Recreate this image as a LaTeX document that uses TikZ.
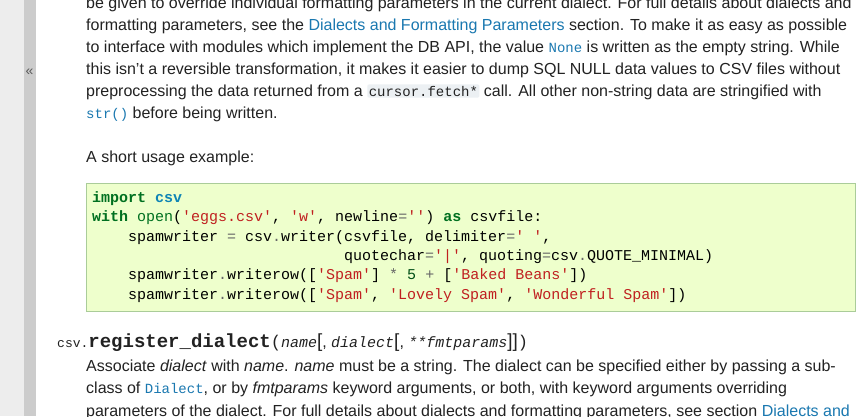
\documentclass[tikz,border=0pt]{standalone}
\usepackage{fontspec}
\setmainfont{Liberation Sans}
\setmonofont{Liberation Mono}
\definecolor{txt}{HTML}{222222}
\definecolor{lnk}{HTML}{1A78B0}
\definecolor{kw}{HTML}{007020}
\definecolor{st}{HTML}{C02020}
\definecolor{nm}{HTML}{0E84B5}
\definecolor{op}{HTML}{666666}
\definecolor{codebg}{HTML}{EEFFCC}
\definecolor{codebd}{HTML}{AACC99}
\definecolor{inl}{HTML}{ECF0F3}
\newcommand\lk[1]{\textcolor{lnk}{#1}}
\newcommand\ic[1]{{\fontsize{14}{14}\selectfont\ttfamily\textcolor{lnk}{#1}}}
\newcommand\K[1]{\textcolor{kw}{\bfseries #1}}
\newcommand\Sg[1]{\textcolor{st}{#1}}
\newcommand\Op[1]{\textcolor{op}{#1}}
\begin{document}
\begin{tikzpicture}[x=1pt,y=-1pt,
  body/.style={anchor=base west,inner sep=0pt,text=txt,font=\fontsize{16}{16}\selectfont},
  code/.style={anchor=base west,inner sep=0pt,text=black,font=\fontsize{15}{15}\selectfont\ttfamily}]
\useasboundingbox (0,0) rectangle (858,416);
\fill[white] (0,0) rectangle (858,416);
\fill[black!7] (0,0) rectangle (24,416);
\fill[black!20] (24,0) rectangle (36,416);
\node[inner sep=0pt,text=black!65,font=\fontsize{14}{14}\selectfont] (coll) at (29.5,72) {«};
\node[body] (l1) at (86,8) {be given to override individual formatting parameters in the current dialect. For full details about dialects and};
\node[body] (l2) at (86,30) {formatting parameters, see the \lk{Dialects and Formatting Parameters} section. To make it as easy as possible};
\node[body] (l3) at (86,52) {to interface with modules which implement the DB API, the value \ic{None} is written as the empty string. While};
\node[body] (l4) at (86,74) {this isn’t a reversible transformation, it makes it easier to dump SQL NULL data values to CSV files without};
\node[body] (l5) at (86,96) {preprocessing the data returned from a \tikz[baseline=(c.base)]\node[fill=inl,rounded corners=2pt,inner sep=1.5pt] (c) {\fontsize{14}{14}\selectfont\ttfamily cursor.fetch*}; call. All other non-string data are stringified with};
\node[body] (l6) at (86,118) {\ic{str()} before being written.};
\node[body] (ex) at (86,162) {A short usage example:};
\draw[codebd,fill=codebg] (86.5,183.5) rectangle (855,311) node[coordinate] (cb) {};
\node[code] (c1) at (92,202) {\K{import} \textcolor{nm}{\bfseries csv}};
\node[code] (c2) at (92,221.5) {\K{with} \textcolor{kw}{open}(\Sg{'eggs.csv'}, \Sg{'w'}, newline\Op{=}\Sg{''}) \K{as} csvfile:};
\node[code] (c3) at (92,241) {\hspace*{2.4em}spamwriter \Op{=} csv\Op{.}writer(csvfile, delimiter\Op{=}\Sg{' '},};
\node[code] (c4) at (92,260) {\hspace*{16.8em}quotechar\Op{=}\Sg{'|'}, quoting\Op{=}csv\Op{.}QUOTE\_MINIMAL)};
\node[code] (c5) at (92,279.5) {\hspace*{2.4em}spamwriter\Op{.}writerow([\Sg{'Spam'}] \Op{*} \textcolor{kw!70!black}{5} \Op{+} [\Sg{'Baked Beans'}])};
\node[code] (c6) at (92,299) {\hspace*{2.4em}spamwriter\Op{.}writerow([\Sg{'Spam'}, \Sg{'Lovely Spam'}, \Sg{'Wonderful Spam'}])};
\node[body] (hd) at (57,347) {{\fontsize{13}{13}\selectfont\ttfamily csv.}{\fontsize{19}{19}\selectfont\ttfamily\bfseries register\_dialect}{\fontsize{17}{17}\selectfont\ttfamily(}{\fontsize{15}{15}\selectfont\ttfamily\itshape name}{\fontsize{19}{19}\selectfont[}, {\fontsize{15}{15}\selectfont\ttfamily\itshape dialect}{\fontsize{19}{19}\selectfont[}, {\fontsize{15}{15}\selectfont\ttfamily\itshape **fmtparams}{\fontsize{19}{19}\selectfont]]}{\fontsize{17}{17}\selectfont\ttfamily)}};
\node[body] (b1) at (86,371) {Associate \textit{dialect} with \textit{name}. \textit{name} must be a string. The dialect can be specified either by passing a sub-};
\node[body] (b2) at (86,393.5) {class of \ic{Dialect}, or by \textit{fmtparams} keyword arguments, or both, with keyword arguments overriding};
\node[body] (b3) at (86,416) {parameters of the dialect. For full details about dialects and formatting parameters, see section \lk{Dialects and}};
\end{tikzpicture}
\end{document}
